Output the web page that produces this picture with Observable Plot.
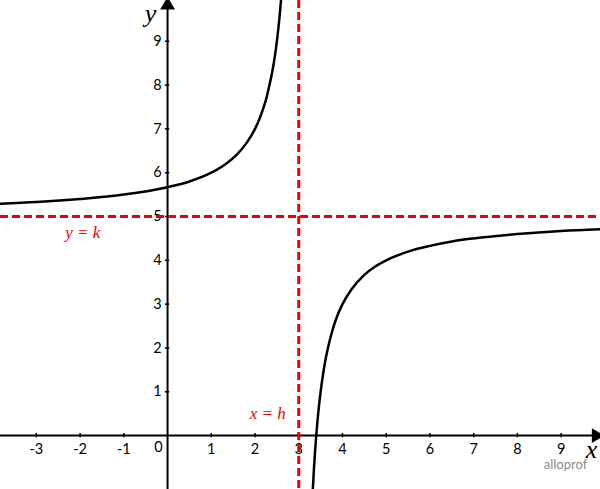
<!DOCTYPE html>
<html>
<head>
<meta charset="utf-8">
<script src="https://cdn.jsdelivr.net/npm/d3@7"></script>
<script src="https://cdn.jsdelivr.net/npm/@observablehq/plot@0.6"></script>
<style>
  html, body { margin: 0; padding: 0; background: #fff; }
  #chart svg { display: block; }
</style>
</head>
<body>
<div id="chart"></div>
<script>
// Data
const xTicks = [-3, -2, -1, 1, 2, 3, 4, 5, 6, 7, 8, 9];
const yTicks = [1, 2, 3, 4, 5, 6, 7, 8, 9];
const asymptoteX = 3;   // x = h
const asymptoteY = 5;   // y = k

// left branch of the hyperbola
const leftX = [-3.82, -3, -2, -1, 0, 0.5, 1, 1.33, 1.6, 1.8, 2, 2.11, 2.2, 2.27, 2.33, 2.38, 2.43, 2.47, 2.5, 2.53, 2.56, 2.6];
const leftY = [5.29, 5.33, 5.40, 5.50, 5.67, 5.80, 6.00, 6.20, 6.43, 6.67, 7.00, 7.25, 7.50, 7.74, 8.00, 8.23, 8.51, 8.77, 9.00, 9.26, 9.55, 10.0];
// right branch of the hyperbola
const rightX = [3.32, 3.35, 3.4, 3.45, 3.5, 3.55, 3.6, 3.67, 3.75, 3.85, 4, 4.2, 4.5, 4.75, 5, 5.5, 6, 6.5, 7, 8, 9, 9.9];
const rightY = [-1.25, -0.71, 0, 0.56, 1.00, 1.36, 1.67, 2.01, 2.33, 2.65, 3.00, 3.33, 3.67, 3.86, 4.00, 4.20, 4.33, 4.43, 4.50, 4.60, 4.67, 4.71];

const leftBranch = leftX.map((x, i) => ({x, y: leftY[i]}));
const rightBranch = rightX.map((x, i) => ({x, y: rightY[i]}));

const xMin = -3.82, xMax = 9.9, yMin = -1.23, yMax = 9.93;
const tickFont = "Lato, 'DejaVu Sans', sans-serif";
const mathFont = "'Liberation Serif', 'DejaVu Serif', serif";
const red = "#f00000";

const chart = Plot.plot({
  width: 600,
  height: 489,
  margin: 0,
  x: {domain: [xMin, xMax], axis: null},
  y: {domain: [yMin, yMax], axis: null},
  style: {background: "#fff"},
  marks: [
    // axes
    Plot.ruleY([0], {x1: xMin, x2: 9.75, stroke: "black", strokeWidth: 2}),
    Plot.ruleX([0], {y1: yMin, y2: 9.75, stroke: "black", strokeWidth: 2}),
    Plot.dot([0], {x: 9.8, y: 0, symbol: "triangle", r: 5.5, fill: "black", stroke: null, rotate: 90}),
    Plot.dot([0], {x: 0, y: 9.82, symbol: "triangle", r: 5.5, fill: "black", stroke: null}),
    // tick marks
    Plot.ruleX(xTicks, {x: d => d, y1: -0.05, y2: 0.05, stroke: "black", strokeWidth: 1.5}),
    Plot.ruleY(yTicks, {y: d => d, x1: -0.05, x2: 0.05, stroke: "black", strokeWidth: 1.5}),
    // tick labels
    Plot.text(xTicks, {x: d => d, y: 0, text: d => String(d), dy: 14, fontSize: 14.5, fontFamily: tickFont, fill: "black"}),
    Plot.text(yTicks, {x: 0, y: d => d, text: d => String(d), dx: -6, textAnchor: "end", fontSize: 14.5, fontFamily: tickFont, fill: "black"}),
    Plot.text(["0"], {x: 0, y: 0, text: d => d, dx: -9, dy: 12, fontSize: 14.5, fontFamily: tickFont, fill: "black"}),
    // axis titles
    Plot.text(["x"], {x: 9.9, y: 0, text: d => d, dx: -9, dy: 14, fontSize: 26, fontStyle: "italic", fontFamily: mathFont, fill: "black"}),
    Plot.text(["y"], {x: 0, y: 9.93, text: d => d, dx: -17, dy: 13, fontSize: 26, fontStyle: "italic", fontFamily: mathFont, fill: "black"}),
    // asymptotes
    Plot.ruleX([asymptoteX], {stroke: red, strokeWidth: 3, strokeDasharray: "8,4"}),
    Plot.ruleY([asymptoteY], {stroke: red, strokeWidth: 3, strokeDasharray: "8,4"}),
    Plot.text(["y = k"], {x: -1.94, y: asymptoteY, text: d => d, dy: 16, fontSize: 17, fontStyle: "italic", fontFamily: mathFont, fill: red}),
    Plot.text(["x = h"], {x: asymptoteX, y: 0, text: d => d, dx: -31, dy: -22, fontSize: 17, fontStyle: "italic", fontFamily: mathFont, fill: red}),
    // hyperbola
    Plot.line(leftBranch, {x: "x", y: "y", curve: "monotone-x", stroke: "black", strokeWidth: 2.5}),
    Plot.line(rightBranch, {x: "x", y: "y", curve: "monotone-x", stroke: "black", strokeWidth: 2.5}),
    // watermark
    Plot.text(["alloprof"], {x: 9.1, y: 0, text: d => d, dy: 29, fontSize: 13, fontFamily: tickFont, fill: "#8a8a8a"})
  ]
});
document.getElementById("chart").appendChild(chart);
</script>
</body>
</html>
